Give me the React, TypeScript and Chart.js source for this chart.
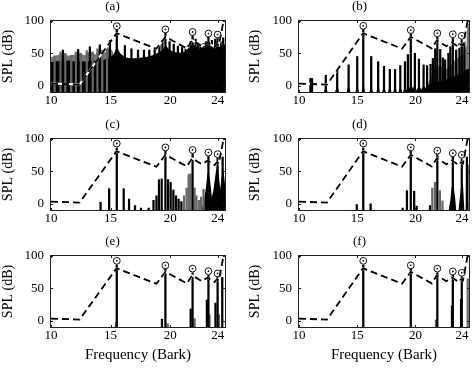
import React, { useEffect, useRef } from "react";
import { Chart, registerables } from "chart.js";
Chart.register(...registerables);

const FONT = "'Liberation Serif', 'Times New Roman', serif";
const X_MIN = 10;
const X_MAX = 24.6;
const Y_MIN = -10;
const Y_MAX = 100;
const xTickValues = [10, 15, 20, 24];
const yTickValues = [0, 50, 100];
const panelLabels = ["(a)", "(b)", "(c)", "(d)", "(e)", "(f)"];
const yAxisLabel = "SPL (dB)";
const xAxisLabel = "Frequency (Bark)";

// masking threshold (dashed), [Bark, dB]
const thresholdPts = [
  [10, 3], [12.4, 1.5], [15.5, 81], [18.85, 57], [19.6, 75.5], [21.4, 57.5],
  [21.84, 70], [22.65, 61], [23.15, 66.5], [23.72, 59.5], [23.93, 64],
  [24.08, 62], [24.5, 102],
];

// (a)
const aPeaks = [[15.52, 92], [19.6, 87], [21.88, 83], [23.21, 80.5], [23.98, 79]];
const aLines = [
  [11.0, 55], [12.28, 56], [13.26, 60], [14.1, 63], [14.94, 70], [15.52, 86],
  [16.2, 62], [16.75, 57], [17.3, 55], [17.8, 55], [18.25, 55], [18.7, 58],
  [19.1, 63], [19.35, 70], [19.6, 81], [19.95, 68], [20.3, 64], [20.65, 61],
  [21.0, 60], [21.3, 60], [21.5, 62], [21.7, 68], [21.88, 77], [22.13, 72],
  [22.35, 66], [22.55, 64], [22.8, 65], [23.0, 68], [23.21, 75], [23.5, 70],
  [23.78, 72], [23.98, 73], [24.23, 68], [24.45, 74],
];
const aGrey = [
  [10.3, 46], [10.8, 52], [11.2, 50], [11.7, 47], [12.1, 52], [12.5, 50],
  [13.0, 54], [13.5, 52], [13.9, 57], [14.3, 55], [14.7, 60],
];
const aHaze = [
  [10, 44], [10.5, 47], [11.0, 50], [11.5, 46], [12.0, 48], [12.3, 51],
  [12.8, 47], [13.26, 53], [13.7, 48], [14.1, 56], [14.5, 51], [14.94, 60],
  [15.2, 52], [15.4, -10],
];
const aFloor = [
  [10, 36], [10.5, 38], [11, 37], [11.5, 39], [12, 37], [12.5, 38], [13, 37],
  [13.5, 39], [14, 38], [14.5, 40], [15, 44], [15.3, 50], [15.52, 60],
  [15.8, 50], [16.2, 44], [16.8, 42], [17.5, 43], [18.2, 45], [18.7, 48],
  [19.1, 52], [19.4, 56], [19.6, 63], [19.9, 56], [20.3, 52], [20.8, 51],
  [21.3, 53], [21.6, 57], [21.88, 65], [22.15, 60], [22.5, 57], [22.9, 59],
  [23.1, 63], [23.21, 70], [23.45, 63], [23.7, 61], [23.85, 65], [23.98, 72],
  [24.15, 64], [24.35, 62], [24.5, 66], [24.6, 62],
];

// (b)
const bPeaks = [[15.52, 92.5], [19.6, 86], [21.88, 81], [23.21, 79.5], [23.98, 77]];
const bLines = [
  [10.98, 11], [11.12, 11], [12.3, 16], [13.28, 23], [14.26, 32], [15.0, 45],
  [15.52, 87], [16.2, 45], [16.8, 37], [17.3, 30], [17.8, 25], [18.25, 25],
  [18.7, 31], [19.1, 37], [19.35, 48], [19.6, 80], [19.95, 50], [20.3, 41],
  [20.7, 32], [21.0, 31], [21.3, 33], [21.5, 42], [21.7, 57], [21.88, 75],
  [22.13, 56], [22.35, 43], [22.55, 40], [22.83, 50], [23.0, 60], [23.21, 73],
  [23.5, 55], [23.78, 65], [23.98, 71], [24.2, 68],
];
const bGrey: number[][] = [];
const bHaze = [
  [20.5, -10], [21.0, 0], [21.4, 15], [21.8, 30], [22.2, 30], [22.6, 25],
  [23.0, 30], [23.4, 40], [23.8, 45], [24.2, 50], [24.35, 60], [24.4, 96],
  [24.6, 96],
];
const bFloor = [
  [10, -10], [12.15, -10], [12.3, 2], [12.45, -10], [13.1, -10], [13.28, 1],
  [13.45, -10], [14.1, -10], [14.26, 1], [14.42, -10], [14.85, -10], [15.0, 2],
  [15.15, -10], [15.38, -10], [15.52, 5], [15.66, -10], [16.05, -10], [16.2, 1],
  [16.35, -10], [16.65, -10], [16.8, 0], [16.95, -10], [17.15, -10], [17.3, 0],
  [17.45, -10], [17.65, -10], [17.8, 0], [17.95, -10], [18.1, -10], [18.25, 0],
  [18.4, -10], [18.55, -10], [18.7, 0], [18.85, -10], [18.95, -10], [19.1, 1],
  [19.22, -8], [19.35, 2], [19.48, -5], [19.6, 5], [19.78, -5], [19.95, 2],
  [20.1, -8], [20.3, 1], [20.5, -6], [20.7, 0], [20.85, -5], [21.0, 0],
  [21.3, 2], [21.6, 4], [22.0, 6], [22.5, 8], [23.0, 12], [23.5, 16],
  [24.0, 20], [24.3, 24], [24.6, 26],
];

// (c)
const cPeaks = [[15.52, 93], [19.6, 87], [21.88, 83], [23.21, 79], [23.98, 76.5]];
const cLines = [
  [14.16, 2], [14.88, 23], [15.52, 86], [16.1, 23], [16.55, 7], [17.05, -3],
  [17.55, -7], [18.2, -7], [18.6, 5], [18.85, 12], [19.06, 37], [19.29, 38],
  [19.6, 81], [19.82, 37], [20.04, 33], [20.27, 21], [20.49, 12], [20.71, 7],
  [20.94, 3], [21.88, 77], [23.21, 73], [23.98, 70], [24.4, 72],
];
const cGrey = [
  [21.16, 12], [21.38, 24], [21.55, 45], [21.7, 46], [22.05, 24], [22.2, 12],
  [22.4, 5], [22.6, 10], [22.8, 22],
];
const cHaze: number[][] = [];
const cFloor = [
  [22.6, -10], [22.8, 0], [23.0, 25], [23.12, 45], [23.21, 50], [23.35, 35],
  [23.5, 10], [23.62, 20], [23.8, 45], [23.95, 60], [24.1, 40], [24.2, 22],
  [24.3, 40], [24.45, 55], [24.6, 30],
];

// (d)
const dPeaks = [[15.52, 93], [19.6, 87], [21.88, 82], [23.21, 78], [23.98, 75.5]];
const dLines = [
  [14.96, -1.5], [15.52, 86], [16.15, -0.5], [18.9, -7], [19.27, 20], [19.6, 81],
  [19.89, 19], [20.1, -4], [21.25, -3], [21.88, 76], [23.21, 72], [23.98, 69],
  [24.42, 72],
];
const dGrey = [[21.45, 24], [21.68, 33], [22.1, 20], [22.32, 4]];
const dHaze = [[24.3, -10], [24.38, 60], [24.6, 60]];
const dFloor = [
  [22.85, -10], [23.0, 5], [23.1, 25], [23.25, 30], [23.4, 10], [23.5, -10],
  [23.7, -10], [23.85, 15], [23.95, 30], [24.1, 25], [24.2, -10], [24.6, -10],
];

// (e)
const ePeaks = [[15.52, 92.5], [19.6, 85.5], [21.88, 80.5], [23.21, 76.5], [23.98, 73]];
const eLines = [
  [15.52, 86], [19.31, 2], [19.6, 80], [21.72, 18], [21.88, 74], [23.08, 32],
  [23.21, 70], [23.8, 27], [23.98, 67], [24.37, 67],
];
const eGrey = [[15.45, -3], [19.8, -5], [22.05, 3], [23.3, 9], [24.09, 9]];
const eHaze: number[][] = [];
const eFloor: number[][] = [];

// (f)
const fPeaks = [[15.52, 92.5], [19.6, 85.5], [21.88, 80.5], [23.21, 76], [23.98, 74]];
const fLines = [
  [15.52, 86], [19.6, 80], [21.88, 74], [23.14, 23], [23.21, 70], [23.92, 33],
  [23.98, 68],
];
const fGrey = [[21.76, 1]];
const fHaze = [[24.35, -10], [24.38, 65], [24.6, 65]];
const fFloor: number[][] = [];

const PANELS = [
  { peaks: aPeaks, lines: aLines, grey: aGrey, haze: aHaze, floor: aFloor },
  { peaks: bPeaks, lines: bLines, grey: bGrey, haze: bHaze, floor: bFloor },
  { peaks: cPeaks, lines: cLines, grey: cGrey, haze: cHaze, floor: cFloor },
  { peaks: dPeaks, lines: dLines, grey: dGrey, haze: dHaze, floor: dFloor },
  { peaks: ePeaks, lines: eLines, grey: eGrey, haze: eHaze, floor: eFloor },
  { peaks: fPeaks, lines: fLines, grey: fGrey, haze: fHaze, floor: fFloor },
];

const toXY = (p: number[][]) => p.map(([x, y]) => ({ x, y }));
const toBars = (p: number[][]) => p.map(([x, y]) => ({ x, y: [Y_MIN, y] }));

const boxPlugin = {
  id: "matlabBox",
  afterDraw(chart: any) {
    const { ctx, chartArea: a } = chart;
    const xs = chart.scales.x;
    const ys = chart.scales.y;
    ctx.save();
    ctx.strokeStyle = "#222";
    ctx.lineWidth = 1;
    ctx.strokeRect(a.left - 0.5, a.top - 0.5, a.right - a.left + 1, a.bottom - a.top + 1);
    ctx.beginPath();
    xTickValues.forEach((v) => {
      const px = Math.round(xs.getPixelForValue(v)) + 0.5;
      ctx.moveTo(px, a.bottom);
      ctx.lineTo(px, a.bottom - 2);
      ctx.moveTo(px, a.top);
      ctx.lineTo(px, a.top + 2);
    });
    yTickValues.forEach((v) => {
      const py = Math.round(ys.getPixelForValue(v)) + 0.5;
      ctx.moveTo(a.left, py);
      ctx.lineTo(a.left + 2, py);
      ctx.moveTo(a.right, py);
      ctx.lineTo(a.right - 2, py);
    });
    ctx.stroke();
    ctx.restore();
  },
};

const COL_LEFT = [0, 237];
const COL_PAD_L = [0, 10];
const COL_PAD_R = [12, 2];
const COL_YW = [51, 52];
const ROW_TOP = [0, 118, 235];
const ROW_H = [117, 117, 135];
const ROW_XH = [25, 25, 43];
const CANVAS_W = 237;

function Panel({ idx }: { idx: number }) {
  const ref = useRef<HTMLCanvasElement | null>(null);
  const col = idx % 2;
  const row = Math.floor(idx / 2);
  useEffect(() => {
    const p = PANELS[idx];
    const tickFont = { family: FONT, size: 13 };
    const chart = new Chart(ref.current as HTMLCanvasElement, {
      type: "bar",
      data: {
        datasets: [
          {
            type: "line", data: toXY(p.peaks), showLine: false, pointRadius: 3.4,
            pointBorderWidth: 1, pointBorderColor: "#111",
            pointBackgroundColor: "rgba(0,0,0,0)", order: 0,
          },
          {
            type: "line", data: toXY(p.peaks), showLine: false, pointRadius: 0.9,
            pointBorderWidth: 0, pointBackgroundColor: "#111", order: 0,
          },
          {
            type: "line", data: toXY(thresholdPts), borderColor: "#000", borderWidth: 1.8,
            borderDash: [7, 4], pointRadius: 0, fill: false, order: 1, tension: 0,
          },
          {
            type: "line", data: toXY(thresholdPts), borderColor: "#fff", borderWidth: 2,
            pointRadius: 0, fill: false, order: 2, tension: 0,
          },
          {
            type: "bar", data: toBars(p.lines), backgroundColor: "#000",
            barThickness: 1.6, grouped: false, order: 3, borderWidth: 0,
          },
          {
            type: "bar", data: toBars(p.grey), backgroundColor: "#666",
            barThickness: 1.6, grouped: false, order: 4, borderWidth: 0,
          },
          {
            type: "line", data: toXY(p.floor), borderWidth: 0, pointRadius: 0,
            fill: "start", backgroundColor: "#000", order: 5, tension: 0,
          },
          {
            type: "line", data: toXY(p.haze), borderWidth: 0, pointRadius: 0,
            fill: "start", backgroundColor: "#777", order: 6, tension: 0,
          },
        ] as any,
      },
      options: {
        animation: false,
        responsive: false,
        events: [],
        layout: { padding: { left: COL_PAD_L[col], right: COL_PAD_R[col], top: 0, bottom: 0 } },
        plugins: {
          legend: { display: false },
          tooltip: { enabled: false },
          title: {
            display: true, text: panelLabels[idx], color: "#000",
            font: { family: FONT, size: 13, lineHeight: 1, weight: "normal" },
            padding: { top: 0, bottom: 8 },
          },
        },
        scales: {
          x: {
            type: "linear", min: X_MIN, max: X_MAX, offset: false,
            grid: { display: false, drawTicks: false }, border: { display: false },
            ticks: { font: tickFont, color: "#000", padding: 1, maxRotation: 0, autoSkip: false },
            afterBuildTicks: (s: any) => { s.ticks = xTickValues.map((v) => ({ value: v })); },
            afterFit: (s: any) => { s.height = ROW_XH[row]; s.paddingLeft = 0; s.paddingRight = 0; },
            title: {
              display: row === 2, text: xAxisLabel, color: "#000",
              font: { family: FONT, size: 15 }, padding: { top: 0, bottom: 6 },
            },
          },
          y: {
            min: Y_MIN, max: Y_MAX,
            grid: { display: false, drawTicks: false }, border: { display: false },
            ticks: { font: tickFont, color: "#000", padding: 7 },
            afterBuildTicks: (s: any) => { s.ticks = yTickValues.map((v) => ({ value: v })); },
            afterFit: (s: any) => { s.width = COL_YW[col]; s.paddingTop = 0; s.paddingBottom = 0; },
            title: {
              display: true, text: yAxisLabel, color: "#000",
              font: { family: FONT, size: 14 }, padding: 0,
            },
          },
        },
      } as any,
      plugins: [boxPlugin],
    });
    return () => chart.destroy();
  }, [idx]);
  return (
    <canvas
      ref={ref}
      width={CANVAS_W}
      height={ROW_H[row]}
      style={{
        position: "absolute",
        left: COL_LEFT[col],
        top: ROW_TOP[row],
        width: CANVAS_W,
        height: ROW_H[row],
      }}
    />
  );
}

export default function App() {
  return (
    <div
      style={{
        position: "absolute", left: 0, top: 0, width: 474, height: 370,
        background: "#fff", overflow: "hidden",
      }}
    >
      {PANELS.map((_, i) => (
        <Panel key={i} idx={i} />
      ))}
    </div>
  );
}
